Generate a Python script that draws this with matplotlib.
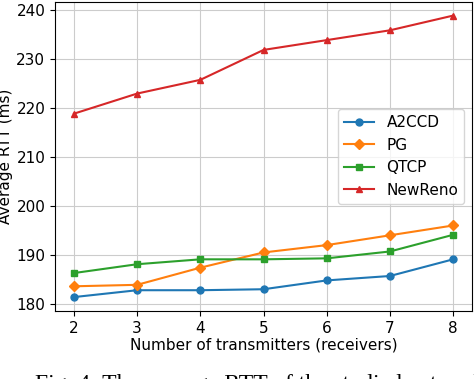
import matplotlib
matplotlib.use('Agg')
import matplotlib.pyplot as plt

transmitters = [2, 3, 4, 5, 6, 7, 8]
a2ccd = [181.4, 182.8, 182.8, 183.0, 184.8, 185.7, 189.1]
pg = [183.6, 183.9, 187.4, 190.5, 192.0, 194.0, 196.0]
qtcp = [186.3, 188.1, 189.1, 189.1, 189.3, 190.7, 194.1]
newreno = [218.8, 222.9, 225.7, 231.8, 233.8, 235.8, 238.8]

fig = plt.figure(figsize=(4.74, 3.79), dpi=100)
ax = fig.add_axes([0.116, 0.179, 0.880, 0.817])

ax.plot(transmitters, a2ccd, marker='o', markersize=5, color='tab:blue', label='A2CCD')
ax.plot(transmitters, pg, marker='D', markersize=5, color='tab:orange', label='PG')
ax.plot(transmitters, qtcp, marker='s', markersize=5, color='tab:green', label='QTCP')
ax.plot(transmitters, newreno, marker='^', markersize=5, color='tab:red', label='NewReno')

ax.set_xticks(transmitters)
ax.set_yticks([180, 190, 200, 210, 220, 230, 240])
ax.tick_params(labelsize=11)
ax.grid(True, color='#cccccc')
ax.set_xlabel('Number of transmitters (receivers)', fontsize=11, labelpad=1)
ax.set_ylabel('Average RTT (ms)', fontsize=11, labelpad=2)
ax.legend(loc='center right', fontsize=11)

# caption of the paper figure, cut by the crop as in the source
fig.text(0.074, -0.028, 'Fig. 4: The average RTT of the studied network',
         family='Liberation Serif', fontsize=17, va='baseline', ha='left')

fig.savefig('out.png', dpi=100)
